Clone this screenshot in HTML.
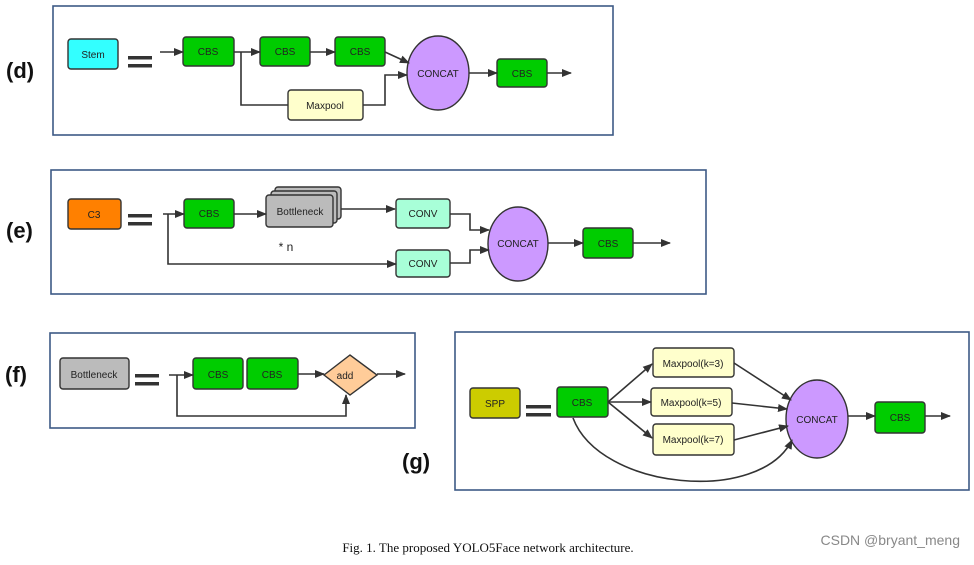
<!DOCTYPE html>
<html><head><meta charset="utf-8"><style>
body{margin:0;background:#fff;}
svg text{font-family:"Liberation Sans",Arial,sans-serif;}
</style></head><body>
<svg width="974" height="560" viewBox="0 0 974 560" xmlns="http://www.w3.org/2000/svg">
<defs>
<marker id="a" markerWidth="10" markerHeight="8" refX="9" refY="4" orient="auto" markerUnits="userSpaceOnUse"><path d="M0,0 L10,4 L0,8 z" fill="#333"/></marker>
</defs>
<g fill="none" stroke="#3d5a85" stroke-width="1.6">
<rect x="53" y="6" width="560" height="129"/>
<rect x="51" y="170" width="655" height="124"/>
<rect x="50" y="333" width="365" height="95"/>
<rect x="455" y="332" width="514" height="158"/>
</g>
<g font-weight="bold" font-size="22" fill="#111">
<text x="6" y="78">(d)</text>
<text x="6" y="238">(e)</text>
<text x="5" y="382">(f)</text>
<text x="402" y="469">(g)</text>
</g>
<g fill="#333">
<rect x="128" y="56" width="24" height="3.5"/><rect x="128" y="64" width="24" height="3.5"/>
<rect x="128" y="214" width="24" height="3.5"/><rect x="128" y="222" width="24" height="3.5"/>
<rect x="135" y="374" width="24" height="3.5"/><rect x="135" y="382" width="24" height="3.5"/>
<rect x="526" y="405" width="25" height="3.5"/><rect x="526" y="413" width="25" height="3.5"/>
</g>
<g stroke="#333" stroke-width="1.4" font-size="10" text-anchor="middle">
<!-- d -->
<rect x="68" y="39" width="50" height="30" rx="3" fill="#33ffff"/>
<rect x="183" y="37" width="51" height="29" rx="3" fill="#00cc00"/>
<rect x="260" y="37" width="50" height="29" rx="3" fill="#00cc00"/>
<rect x="335" y="37" width="50" height="29" rx="3" fill="#00cc00"/>
<rect x="288" y="90" width="75" height="30" rx="3" fill="#ffffcc"/>
<ellipse cx="438" cy="73" rx="31" ry="37" fill="#cc99ff"/>
<rect x="497" y="59" width="50" height="28" rx="3" fill="#00cc00"/>
<!-- e -->
<rect x="68" y="199" width="53" height="30" rx="3" fill="#ff8000"/>
<rect x="184" y="199" width="50" height="29" rx="3" fill="#00cc00"/>
<rect x="275" y="187" width="66" height="32" rx="3" fill="#bbbbbb"/>
<rect x="271" y="191" width="66" height="32" rx="3" fill="#bbbbbb"/>
<rect x="266" y="195" width="67" height="32" rx="3" fill="#bbbbbb"/>
<rect x="396" y="199" width="54" height="29" rx="3" fill="#a8ffd8"/>
<rect x="396" y="250" width="54" height="27" rx="3" fill="#a8ffd8"/>
<ellipse cx="518" cy="244" rx="30" ry="37" fill="#cc99ff"/>
<rect x="583" y="228" width="50" height="30" rx="3" fill="#00cc00"/>
<!-- f -->
<rect x="60" y="358" width="69" height="31" rx="3" fill="#bbbbbb"/>
<rect x="193" y="358" width="50" height="31" rx="3" fill="#00cc00"/>
<rect x="247" y="358" width="51" height="31" rx="3" fill="#00cc00"/>
<path d="M324,375 L350,355 L377,375 L350,395 z" fill="#ffcc99"/>
<!-- g -->
<rect x="470" y="388" width="50" height="30" rx="3" fill="#cccc00"/>
<rect x="557" y="387" width="51" height="30" rx="3" fill="#00cc00"/>
<rect x="653" y="348" width="81" height="29" rx="3" fill="#ffffcc"/>
<rect x="651" y="388" width="81" height="28" rx="3" fill="#ffffcc"/>
<rect x="653" y="424" width="81" height="31" rx="3" fill="#ffffcc"/>
<ellipse cx="817" cy="419" rx="31" ry="39" fill="#cc99ff"/>
<rect x="875" y="402" width="50" height="31" rx="3" fill="#00cc00"/>
</g>
<g fill="none" stroke="#333" stroke-width="1.6" marker-end="url(#a)">
<!-- d -->
<path d="M160,52 H183"/><path d="M234,52 H260"/><path d="M310,52 H335"/>
<path d="M385,52 L409,63"/>
<path d="M241,52 V105 H288" marker-end="none"/>
<path d="M363,105 H385 V75 H407"/>
<path d="M469,73 H497"/><path d="M547,73 H571"/>
<!-- e -->
<path d="M163,214 H184"/><path d="M234,214 H266"/><path d="M341,209 H395"/>
<path d="M168,214 V264 H396"/>
<path d="M450,214 H470 V230 H489"/>
<path d="M450,263 H470 V250 H489"/>
<path d="M548,243 H583"/><path d="M633,243 H670"/>
<!-- f -->
<path d="M169,375 H193"/><path d="M298,374 H324"/><path d="M377,374 H405"/>
<path d="M177,375 V416 H346 V395"/>
<!-- g -->
<path d="M608,402 L652,364"/><path d="M608,402 H651"/><path d="M608,402 L652,438"/>
<path d="M734,363 L791,400"/><path d="M732,403 L787,409"/><path d="M734,440 L788,426"/>
<path d="M573,418 C600,490 760,505 792,440"/>
<path d="M848,416 H875"/><path d="M925,416 H950"/>
</g>
<g font-size="10" fill="#222" text-anchor="middle">
<text x="93" y="58">Stem</text>
<text x="208" y="55">CBS</text><text x="285" y="55">CBS</text><text x="360" y="55">CBS</text>
<text x="325" y="109">Maxpool</text>
<text x="438" y="77">CONCAT</text>
<text x="522" y="77">CBS</text>
<text x="94" y="218">C3</text>
<text x="209" y="217">CBS</text>
<text x="300" y="215">Bottleneck</text>
<text x="423" y="217">CONV</text>
<text x="423" y="267">CONV</text>
<text x="518" y="247">CONCAT</text>
<text x="608" y="247">CBS</text>
<text x="286" y="251" font-size="12">* n</text>
<text x="94" y="378">Bottleneck</text>
<text x="218" y="378">CBS</text><text x="272" y="378">CBS</text>
<text x="345" y="379">add</text>
<text x="495" y="407">SPP</text>
<text x="582" y="406">CBS</text>
<text x="693" y="367">Maxpool(k=3)</text>
<text x="691" y="406">Maxpool(k=5)</text>
<text x="693" y="443">Maxpool(k=7)</text>
<text x="817" y="423">CONCAT</text>
<text x="900" y="421">CBS</text>
</g>
<text x="488" y="552" text-anchor="middle" font-size="13" style="font-family:'Liberation Serif',serif" fill="#111">Fig. 1.  The proposed YOLO5Face network architecture.</text>
<text x="960" y="545" text-anchor="end" font-size="14" fill="#888">CSDN @bryant_meng</text>
</svg>
</body></html>
